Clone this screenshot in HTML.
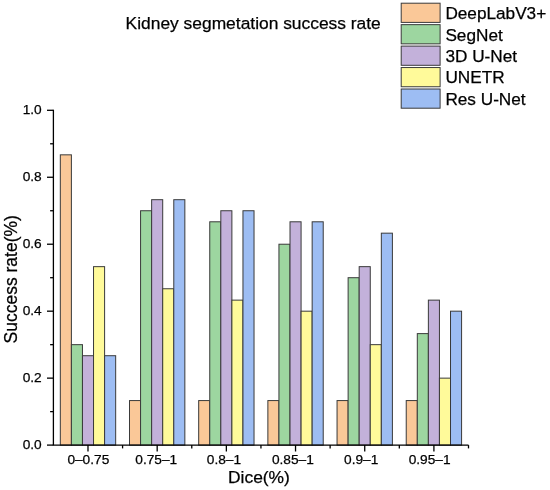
<!DOCTYPE html>
<html lang="en"><head><meta charset="utf-8"><title>Kidney segmetation success rate</title>
<style>html,body{margin:0;padding:0;background:#fff}body{width:550px;height:490px;overflow:hidden}</style></head>
<body>
<svg width="550" height="490" viewBox="0 0 550 490" style="display:block">
<rect width="550" height="490" fill="#fff"/>
<g stroke="#3a3a3a" stroke-width="1">
<rect x="60.32" y="154.83" width="11.07" height="290.27" fill="#FAC898"/>
<rect x="71.39" y="344.66" width="11.07" height="100.44" fill="#9DD6A0"/>
<rect x="82.46" y="355.71" width="11.07" height="89.39" fill="#C3B1DA"/>
<rect x="93.53" y="266.65" width="11.07" height="178.45" fill="#FFFA9A"/>
<rect x="104.60" y="355.71" width="11.07" height="89.39" fill="#9DBDF3"/>
<rect x="129.50" y="400.57" width="11.07" height="44.53" fill="#FAC898"/>
<rect x="140.57" y="210.74" width="11.07" height="234.36" fill="#9DD6A0"/>
<rect x="151.64" y="199.69" width="11.07" height="245.41" fill="#C3B1DA"/>
<rect x="162.71" y="288.75" width="11.07" height="156.35" fill="#FFFA9A"/>
<rect x="173.78" y="199.69" width="11.07" height="245.41" fill="#9DBDF3"/>
<rect x="198.68" y="400.57" width="11.07" height="44.53" fill="#FAC898"/>
<rect x="209.75" y="221.79" width="11.07" height="223.31" fill="#9DD6A0"/>
<rect x="220.82" y="210.74" width="11.07" height="234.36" fill="#C3B1DA"/>
<rect x="231.89" y="300.13" width="11.07" height="144.97" fill="#FFFA9A"/>
<rect x="242.96" y="210.74" width="11.07" height="234.36" fill="#9DBDF3"/>
<rect x="267.87" y="400.57" width="11.07" height="44.53" fill="#FAC898"/>
<rect x="278.94" y="244.22" width="11.07" height="200.88" fill="#9DD6A0"/>
<rect x="290.01" y="221.79" width="11.07" height="223.31" fill="#C3B1DA"/>
<rect x="301.08" y="311.18" width="11.07" height="133.92" fill="#FFFA9A"/>
<rect x="312.15" y="221.79" width="11.07" height="223.31" fill="#9DBDF3"/>
<rect x="337.05" y="400.57" width="11.07" height="44.53" fill="#FAC898"/>
<rect x="348.12" y="277.70" width="11.07" height="167.40" fill="#9DD6A0"/>
<rect x="359.19" y="266.65" width="11.07" height="178.45" fill="#C3B1DA"/>
<rect x="370.26" y="344.66" width="11.07" height="100.44" fill="#FFFA9A"/>
<rect x="381.33" y="233.17" width="11.07" height="211.93" fill="#9DBDF3"/>
<rect x="406.23" y="400.57" width="11.07" height="44.53" fill="#FAC898"/>
<rect x="417.30" y="333.61" width="11.07" height="111.49" fill="#9DD6A0"/>
<rect x="428.37" y="300.13" width="11.07" height="144.97" fill="#C3B1DA"/>
<rect x="439.44" y="378.14" width="11.07" height="66.96" fill="#FFFA9A"/>
<rect x="450.51" y="311.18" width="11.07" height="133.92" fill="#9DBDF3"/>
</g>
<g stroke="#000" stroke-width="1.3" fill="none">
<path d="M53.4 109.64999999999999V445.1"/>
<path d="M52.75 445.1H468.5"/>
<path d="M47.00 445.10H53.4"/>
<path d="M50.10 411.62H53.4"/>
<path d="M47.00 378.14H53.4"/>
<path d="M50.10 344.66H53.4"/>
<path d="M47.00 311.18H53.4"/>
<path d="M50.10 277.70H53.4"/>
<path d="M47.00 244.22H53.4"/>
<path d="M50.10 210.74H53.4"/>
<path d="M47.00 177.26H53.4"/>
<path d="M50.10 143.78H53.4"/>
<path d="M47.00 110.30H53.4"/>
<path d="M87.99 445.1V451.50"/>
<path d="M122.58 445.1V448.40"/>
<path d="M157.18 445.1V451.50"/>
<path d="M191.77 445.1V448.40"/>
<path d="M226.36 445.1V451.50"/>
<path d="M260.95 445.1V448.40"/>
<path d="M295.54 445.1V451.50"/>
<path d="M330.13 445.1V448.40"/>
<path d="M364.73 445.1V451.50"/>
<path d="M399.32 445.1V448.40"/>
<path d="M433.91 445.1V451.50"/>
<path d="M468.50 445.1V448.40"/>
</g>
<g font-family="'Liberation Sans', sans-serif" fill="#000" stroke="#000" stroke-width="0.25">
<g font-size="13.7" text-anchor="end">
<text x="41.7" y="449.10">0.0</text>
<text x="41.7" y="382.14">0.2</text>
<text x="41.7" y="315.18">0.4</text>
<text x="41.7" y="248.22">0.6</text>
<text x="41.7" y="181.26">0.8</text>
<text x="41.7" y="114.30">1.0</text>
</g>
<g font-size="13.7" text-anchor="middle">
<text x="88.34" y="464.3">0–0.75</text>
<text x="156.28" y="464.3">0.75–1</text>
<text x="223.96" y="464.3">0.8–1</text>
<text x="292.84" y="464.3">0.85–1</text>
<text x="361.23" y="464.3">0.9–1</text>
<text x="429.61" y="464.3">0.95–1</text>
</g>
<g font-size="17.2">
<text x="125.6" y="29.2" font-size="17.4">Kidney segmetation success rate</text>
<text x="258.95" y="483" text-anchor="middle" font-size="17.4">Dice(%)</text>
<text transform="translate(16.6 279.3) rotate(-90)" text-anchor="middle" font-size="17.5">Success rate(%)</text>
<text x="445.4" y="19.10" font-size="17.2">DeepLabV3+</text>
<text x="445.4" y="40.50" font-size="17.2">SegNet</text>
<text x="445.4" y="61.90" font-size="17.2">3D U-Net</text>
<text x="445.4" y="83.30" font-size="17.2">UNETR</text>
<text x="445.4" y="104.70" font-size="17.2">Res U-Net</text>
</g></g>
<g stroke="#3a3a3a" stroke-width="1">
<rect x="401.2" y="3.20" width="38.9" height="19.2" fill="#FAC898"/>
<rect x="401.2" y="24.65" width="38.9" height="19.2" fill="#9DD6A0"/>
<rect x="401.2" y="46.10" width="38.9" height="19.2" fill="#C3B1DA"/>
<rect x="401.2" y="67.55" width="38.9" height="19.2" fill="#FFFA9A"/>
<rect x="401.2" y="89.00" width="38.9" height="19.2" fill="#9DBDF3"/>
</g>
</svg>
</body></html>
